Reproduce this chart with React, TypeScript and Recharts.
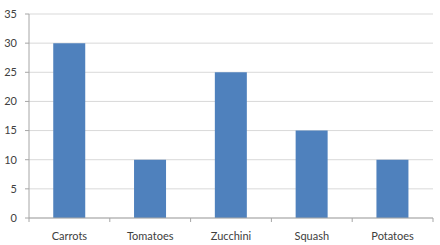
import { BarChart, Bar, XAxis, YAxis, CartesianGrid } from 'recharts';

const CATEGORIES = ['Carrots', 'Tomatoes', 'Zucchini', 'Squash', 'Potatoes'];
const VALUES = [30, 10, 25, 15, 10];
const Y_TICKS = [0, 5, 10, 15, 20, 25, 30, 35];

const data = CATEGORIES.map((name, i) => ({ name, value: VALUES[i] }));

const AXIS = '#a6a6a6';
const TEXT = '#404040';
const FONT = 'Lato, "Open Sans", sans-serif';

function CategoryTick(props: any) {
  const { x, y, payload, index } = props;
  const band = (433 - 29) / CATEGORIES.length;
  const last = index === CATEGORIES.length - 1;
  const top = y - 6;
  return (
    <g>
      <line x1={x - band / 2} x2={x - band / 2} y1={top} y2={top + 4} stroke={AXIS} />
      {last && <line x1={x + band / 2} x2={x + band / 2} y1={top} y2={top + 4} stroke={AXIS} />}
      <text x={x} y={y + 8} dy="0.71em" textAnchor="middle" fill={TEXT} fontSize={11} fontFamily={FONT}>
        {payload.value}
      </text>
    </g>
  );
}

export default function App() {
  return (
    <div style={{ position: 'absolute', left: 0, top: 0, background: '#fff' }}>
      <BarChart
        width={440}
        height={245}
        data={data}
        margin={{ top: 14, right: 7, left: 0, bottom: 0 }}
        barCategoryGap="30%"
      >
        <CartesianGrid vertical={false} stroke="#d9d9d9" />
        <XAxis
          dataKey="name"
          height={27}
          stroke={AXIS}
          tickLine={false}
          tickSize={6}
          tickMargin={0}
          tick={<CategoryTick />}
          interval={0}
        />
        <YAxis
          width={29}
          domain={[0, 35]}
          ticks={Y_TICKS}
          stroke={AXIS}
          tickSize={4}
          tickMargin={8}
          tick={{ fill: TEXT, fontSize: 11, fontFamily: FONT }}
          interval={0}
        />
        <Bar dataKey="value" fill="#4f81bd" isAnimationActive={false} />
      </BarChart>
    </div>
  );
}
